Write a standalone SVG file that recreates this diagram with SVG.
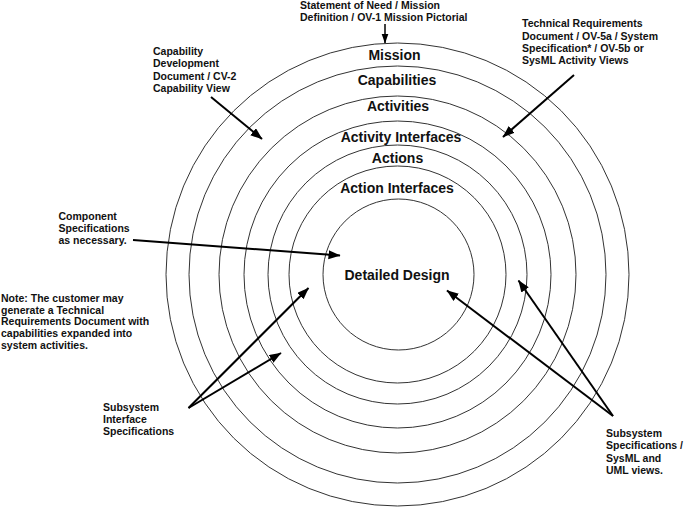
<svg xmlns="http://www.w3.org/2000/svg" width="685" height="507" viewBox="0 0 685 507">
<style>
  .ring { fill: none; stroke: #333; stroke-width: 1; }
  .rl { font-family: "Liberation Sans", Arial, sans-serif; font-weight: bold; font-size: 14px; fill: #111; text-anchor: middle; }
  .an { font-family: "Liberation Sans", Arial, sans-serif; font-weight: bold; font-size: 10.5px; fill: #111; }
  .arr { stroke: #000; stroke-width: 2; fill: none; marker-end: url(#ah); }
  .arr1 { stroke: #000; stroke-width: 1.5; fill: none; marker-end: url(#ahs); }
</style>
<defs>
  <marker id="ah" markerUnits="userSpaceOnUse" markerWidth="13" markerHeight="10" refX="11.5" refY="4.5" orient="auto">
    <path d="M0,0 L12,4.5 L0,9 z" fill="#000"/>
  </marker>
  <marker id="ahs" markerUnits="userSpaceOnUse" markerWidth="11" markerHeight="8" refX="9.5" refY="3.5" orient="auto">
    <path d="M0,0 L10,3.5 L0,7 z" fill="#000"/>
  </marker>
</defs>
<rect width="685" height="507" fill="#fff"/>

<g id="rings">
  <circle id="ring-mission" class="ring" cx="397.5" cy="274.5" r="231.5"/>
  <circle id="ring-capabilities" class="ring" cx="397.5" cy="274.5" r="208.5"/>
  <circle id="ring-activities" class="ring" cx="397.5" cy="274.5" r="178.5"/>
  <circle id="ring-activity-interfaces" class="ring" cx="397.5" cy="274.5" r="153.5"/>
  <circle id="ring-actions" class="ring" cx="397.5" cy="274.5" r="129.5"/>
  <circle id="ring-action-interfaces" class="ring" cx="397.5" cy="274.5" r="108.5"/>
  <circle id="ring-detailed-design" class="ring" cx="398.5" cy="274.5" r="75.5"/>
</g>

<g id="ring-labels">
  <text class="rl" x="394.5" y="60">Mission</text>
  <text class="rl" x="397" y="85">Capabilities</text>
  <text class="rl" x="398" y="111">Activities</text>
  <text class="rl" x="401" y="142">Activity Interfaces</text>
  <text class="rl" x="397.5" y="162.5">Actions</text>
  <text class="rl" x="397" y="193">Action Interfaces</text>
  <text class="rl" x="397" y="279.5">Detailed Design</text>
</g>

<g id="note-statement">
  <text class="an" x="300" y="8.5">Statement of Need / Mission</text>
  <text class="an" x="300" y="21">Definition / OV-1 Mission Pictorial</text>
</g>

<g id="note-capability">
  <text class="an" x="153" y="55">Capability</text>
  <text class="an" x="153" y="67">Development</text>
  <text class="an" x="153" y="79.5">Document / CV-2</text>
  <text class="an" x="153" y="92">Capability View</text>
</g>

<g id="note-technical">
  <text class="an" x="522" y="27">Technical Requirements</text>
  <text class="an" x="522" y="39.5">Document / OV-5a / System</text>
  <text class="an" x="522" y="51.5">Specification* / OV-5b or</text>
  <text class="an" x="522" y="63.5">SysML Activity Views</text>
</g>

<g id="note-component">
  <text class="an" x="58.5" y="220">Component</text>
  <text class="an" x="58.5" y="232">Specifications</text>
  <text class="an" x="58.5" y="244">as necessary.</text>
</g>

<g id="note-customer">
  <text class="an" x="1" y="301.5">Note: The customer may</text>
  <text class="an" x="1" y="313.5">generate a Technical</text>
  <text class="an" x="1" y="325">Requirements Document with</text>
  <text class="an" x="1" y="337">capabilities expanded into</text>
  <text class="an" x="1" y="349">system activities.</text>
</g>

<g id="note-subsystem-interface">
  <text class="an" x="103" y="410.5">Subsystem</text>
  <text class="an" x="103" y="422.5">Interface</text>
  <text class="an" x="103" y="434.5">Specifications</text>
</g>

<g id="note-subsystem-spec">
  <text class="an" x="606" y="437">Subsystem</text>
  <text class="an" x="606" y="449">Specifications /</text>
  <text class="an" x="606" y="461.5">SysML and</text>
  <text class="an" x="606" y="473.5">UML views.</text>
</g>

<g id="connectors">
  <line class="arr1" x1="385" y1="24" x2="385" y2="43"/>
  <line class="arr" x1="211" y1="97" x2="262" y2="139"/>
  <line class="arr" x1="574" y1="75" x2="503" y2="137"/>
  <line class="arr" x1="133" y1="240" x2="340" y2="255.5"/>
  <line class="arr" x1="188.5" y1="408" x2="308.5" y2="288"/>
  <line class="arr" x1="188.5" y1="408" x2="281" y2="353"/>
  <line class="arr" x1="613" y1="416" x2="447" y2="290.5"/>
  <line class="arr" x1="613" y1="416" x2="518.5" y2="280.5"/>
</g>
</svg>
